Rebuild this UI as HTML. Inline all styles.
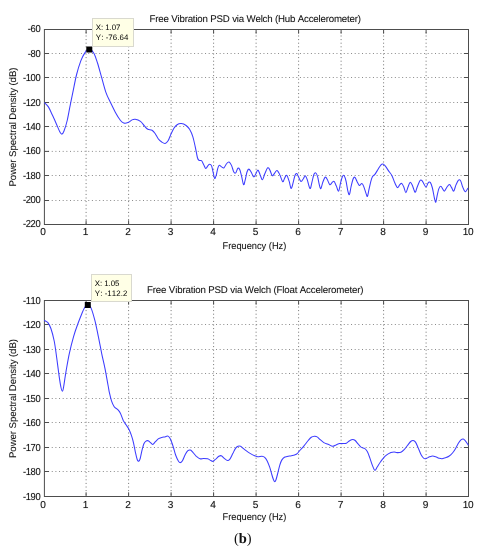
<!DOCTYPE html>
<html lang="en"><head><meta charset="utf-8"><title>Free Vibration PSD via Welch</title>
<style>
html,body{margin:0;padding:0;background:#fff;}
body{width:479px;height:550px;overflow:hidden;}
svg{display:block;font-family:"Liberation Sans",Arial,sans-serif;text-rendering:geometricPrecision;font-kerning:none;}
.grid line{stroke:#727272;stroke-width:1;stroke-dasharray:1 2.6;}
.grid line.h{stroke-dasharray:1 2.65;stroke:#8a8a8a;}
.ax line,.ax rect{stroke:#4d4d4d;stroke-width:1;}
.curve{fill:none;stroke:#3c3cff;stroke-width:1.05;stroke-linejoin:round;stroke-linecap:round;}
.tl{font-size:10.1px;fill:#111;letter-spacing:-0.35px;stroke:#000;stroke-opacity:.18;stroke-width:.6;}
.lb{font-size:9.7px;fill:#111;stroke:#000;stroke-opacity:.14;stroke-width:.5;}
.tt{font-size:7.9px;fill:#000;}
.tip{fill:#ffffe6;stroke:#d9d9cf;stroke-width:1;}
.cap{font-family:"Liberation Serif","DejaVu Serif",serif;font-size:14.5px;fill:#111;}
</style></head><body>
<svg width="479" height="550" viewBox="0 0 479 550">
<rect width="479" height="550" fill="#fff"/>
<g class="grid"><line x1="86.10" y1="31.9" x2="86.10" y2="224.5"/><line x1="128.60" y1="31.9" x2="128.60" y2="224.5"/><line x1="171.10" y1="31.9" x2="171.10" y2="224.5"/><line x1="213.60" y1="31.9" x2="213.60" y2="224.5"/><line x1="256.10" y1="31.9" x2="256.10" y2="224.5"/><line x1="298.60" y1="31.9" x2="298.60" y2="224.5"/><line x1="341.10" y1="31.9" x2="341.10" y2="224.5"/><line x1="383.60" y1="31.9" x2="383.60" y2="224.5"/><line x1="426.10" y1="31.9" x2="426.10" y2="224.5"/><line class="h" x1="44.45" y1="53.50" x2="468.5" y2="53.50"/><line class="h" x1="44.45" y1="77.50" x2="468.5" y2="77.50"/><line class="h" x1="44.45" y1="102.50" x2="468.5" y2="102.50"/><line class="h" x1="44.45" y1="126.50" x2="468.5" y2="126.50"/><line class="h" x1="44.45" y1="151.40" x2="468.5" y2="151.40"/><line class="h" x1="44.45" y1="175.50" x2="468.5" y2="175.50"/><line class="h" x1="44.45" y1="200.50" x2="468.5" y2="200.50"/></g>
<g class="ax"><line x1="86.10" y1="224.5" x2="86.10" y2="220.3"/><line x1="86.10" y1="29.5" x2="86.10" y2="33.7"/><line x1="128.60" y1="224.5" x2="128.60" y2="220.3"/><line x1="128.60" y1="29.5" x2="128.60" y2="33.7"/><line x1="171.10" y1="224.5" x2="171.10" y2="220.3"/><line x1="171.10" y1="29.5" x2="171.10" y2="33.7"/><line x1="213.60" y1="224.5" x2="213.60" y2="220.3"/><line x1="213.60" y1="29.5" x2="213.60" y2="33.7"/><line x1="256.10" y1="224.5" x2="256.10" y2="220.3"/><line x1="256.10" y1="29.5" x2="256.10" y2="33.7"/><line x1="298.60" y1="224.5" x2="298.60" y2="220.3"/><line x1="298.60" y1="29.5" x2="298.60" y2="33.7"/><line x1="341.10" y1="224.5" x2="341.10" y2="220.3"/><line x1="341.10" y1="29.5" x2="341.10" y2="33.7"/><line x1="383.60" y1="224.5" x2="383.60" y2="220.3"/><line x1="383.60" y1="29.5" x2="383.60" y2="33.7"/><line x1="426.10" y1="224.5" x2="426.10" y2="220.3"/><line x1="426.10" y1="29.5" x2="426.10" y2="33.7"/><line x1="44.4" y1="53.50" x2="49.0" y2="53.50"/><line x1="468.5" y1="53.50" x2="463.9" y2="53.50"/><line x1="44.4" y1="77.50" x2="49.0" y2="77.50"/><line x1="468.5" y1="77.50" x2="463.9" y2="77.50"/><line x1="44.4" y1="102.50" x2="49.0" y2="102.50"/><line x1="468.5" y1="102.50" x2="463.9" y2="102.50"/><line x1="44.4" y1="126.50" x2="49.0" y2="126.50"/><line x1="468.5" y1="126.50" x2="463.9" y2="126.50"/><line x1="44.4" y1="151.40" x2="49.0" y2="151.40"/><line x1="468.5" y1="151.40" x2="463.9" y2="151.40"/><line x1="44.4" y1="175.50" x2="49.0" y2="175.50"/><line x1="468.5" y1="175.50" x2="463.9" y2="175.50"/><line x1="44.4" y1="200.50" x2="49.0" y2="200.50"/><line x1="468.5" y1="200.50" x2="463.9" y2="200.50"/><rect x="44.4" y="29.5" width="424.1" height="195.0" fill="none"/></g>
<path class="curve" d="M44.6 102.8C45.2 103.5 47.1 104.8 48.4 106.9C49.7 109.0 51.1 112.3 52.5 115.3C53.9 118.3 55.5 121.9 56.7 124.7C57.9 127.5 59.0 130.4 59.9 132.0C60.8 133.6 61.3 134.3 62.0 134.1C62.7 133.9 63.1 133.3 64.0 131.0C64.9 128.7 66.2 124.8 67.2 120.5C68.2 116.2 69.2 110.1 70.3 104.9C71.3 99.7 72.5 94.3 73.5 89.2C74.5 84.1 75.4 79.2 76.6 74.5C77.8 69.8 79.5 64.4 80.8 60.9C82.1 57.4 83.0 55.6 84.4 53.6C85.8 51.6 87.4 48.6 89.0 48.6C90.6 48.6 92.6 51.2 94.0 53.6C95.4 56.0 96.2 59.0 97.5 63.0C98.8 67.0 100.3 72.8 101.7 77.7C103.1 82.6 104.5 88.3 105.9 92.3C107.3 96.3 108.5 98.4 110.1 101.7C111.7 105.0 113.6 109.1 115.3 112.2C117.0 115.3 119.1 118.7 120.5 120.5C121.9 122.3 122.5 122.7 123.7 123.0C124.9 123.3 126.5 123.1 127.9 122.6C129.3 122.1 130.8 120.5 132.0 119.9C133.2 119.3 133.8 119.0 135.2 119.2C136.6 119.4 138.9 120.1 140.5 121.3C142.1 122.5 143.4 124.9 144.6 126.2C145.8 127.5 146.6 128.6 147.8 129.3C149.0 130.0 150.8 129.6 152.0 130.3C153.2 131.0 154.1 132.1 155.1 133.5C156.1 134.9 157.1 137.3 158.2 138.7C159.2 140.1 160.2 141.0 161.4 141.8C162.6 142.6 164.0 143.7 165.1 143.5C166.2 143.3 167.1 142.3 168.1 140.8C169.1 139.3 169.8 136.6 170.8 134.5C171.8 132.4 172.9 129.8 173.9 128.2C174.9 126.6 175.9 125.5 177.1 124.7C178.3 123.9 179.8 123.5 181.3 123.6C182.8 123.7 184.7 124.5 186.1 125.5C187.5 126.5 188.5 127.5 189.6 129.3C190.7 131.2 191.9 133.6 192.8 136.6C193.8 139.6 194.5 143.6 195.3 147.1C196.1 150.6 196.8 155.3 197.4 157.5C198.0 159.7 198.3 159.8 199.0 160.3C199.7 160.8 200.7 160.0 201.5 160.7C202.3 161.4 202.9 163.1 203.6 164.4C204.3 165.7 205.0 168.2 205.7 168.4C206.4 168.7 207.2 166.6 207.8 165.9C208.4 165.2 208.9 164.2 209.5 164.2C210.1 164.2 211.0 164.4 211.6 165.9C212.2 167.4 212.8 171.1 213.3 173.2C213.8 175.3 214.2 178.2 214.7 178.5C215.2 178.8 215.7 176.8 216.2 175.3C216.7 173.8 217.0 171.2 217.5 169.5C218.0 167.8 218.4 165.8 219.1 165.4C219.8 165.0 220.8 166.5 221.6 166.9C222.4 167.3 223.2 168.4 224.0 167.8C224.8 167.2 225.8 164.5 226.7 163.5C227.5 162.5 228.3 161.7 229.1 162.0C229.9 162.3 230.7 163.7 231.5 165.4C232.3 167.1 233.1 170.8 233.8 172.0C234.5 173.2 235.0 173.5 235.7 172.9C236.4 172.3 237.2 168.7 237.9 168.2C238.6 167.7 239.2 168.3 239.8 169.7C240.4 171.1 241.1 174.2 241.7 176.7C242.3 179.2 243.0 184.1 243.6 184.7C244.2 185.3 244.5 182.5 245.1 180.4C245.7 178.3 246.4 173.9 247.0 172.0C247.6 170.1 248.1 169.1 248.8 169.1C249.5 169.1 250.3 170.7 251.1 172.0C251.9 173.3 252.8 176.2 253.5 176.7C254.2 177.2 254.7 175.9 255.4 174.8C256.1 173.7 257.1 170.1 257.9 170.1C258.7 170.1 259.4 173.2 260.1 174.8C260.9 176.4 261.6 180.0 262.4 179.8C263.2 179.6 263.9 175.8 264.8 173.8C265.7 171.8 266.8 168.4 267.6 167.8C268.5 167.2 269.1 168.8 269.9 170.1C270.7 171.4 271.5 175.2 272.3 175.7C273.1 176.2 274.0 173.8 274.8 172.9C275.6 172.0 276.2 170.2 277.0 170.5C277.8 170.8 278.9 172.9 279.8 174.8C280.8 176.7 281.9 181.2 282.7 181.7C283.5 182.2 284.2 178.7 284.9 177.6C285.6 176.5 286.1 174.7 286.8 175.3C287.5 175.9 288.5 179.2 289.2 181.4C289.9 183.6 290.5 188.2 291.1 188.5C291.7 188.8 292.4 185.3 293.0 183.2C293.6 181.1 294.3 177.3 294.9 175.7C295.5 174.1 296.1 173.2 296.8 173.5C297.5 173.8 298.1 176.3 298.8 177.6C299.5 178.9 300.2 181.2 301.0 181.4C301.8 181.6 302.8 179.4 303.5 178.5C304.2 177.6 304.7 175.5 305.3 175.7C305.9 175.9 306.4 177.4 307.2 179.5C308.0 181.6 309.2 188.0 310.0 188.5C310.8 189.0 311.3 184.6 311.9 182.3C312.5 180.0 313.2 176.4 313.8 174.8C314.4 173.2 315.1 172.6 315.7 172.9C316.3 173.2 317.0 174.7 317.6 176.7C318.2 178.7 318.8 183.1 319.4 185.1C319.9 187.1 320.3 189.0 320.9 188.5C321.5 188.0 322.1 184.2 322.8 182.3C323.5 180.4 324.4 177.7 325.1 177.2C325.9 176.7 326.5 178.2 327.3 179.5C328.1 180.8 329.0 184.2 329.8 184.7C330.6 185.2 331.5 182.9 332.2 182.3C332.9 181.8 333.4 180.8 334.1 181.4C334.8 182.0 335.6 184.5 336.4 186.1C337.1 187.7 337.9 191.6 338.6 191.1C339.3 190.6 339.9 185.6 340.5 183.2C341.1 180.8 341.8 177.9 342.4 176.7C343.0 175.4 343.6 174.9 344.2 175.7C344.8 176.5 345.5 178.7 346.1 181.4C346.7 184.1 347.4 189.5 348.0 191.7C348.6 193.9 349.0 195.3 349.5 194.5C350.0 193.7 350.4 189.5 351.0 187.0C351.6 184.5 352.3 181.1 352.9 179.5C353.5 177.9 354.1 176.9 354.8 177.2C355.5 177.5 356.2 180.0 357.0 181.4C357.8 182.8 358.5 185.1 359.3 185.5C360.1 185.9 361.0 183.5 361.7 183.6C362.4 183.7 362.9 184.4 363.6 186.1C364.3 187.8 365.5 191.9 366.1 193.6C366.7 195.3 367.0 196.9 367.4 196.4C367.8 195.9 368.2 193.2 368.7 190.8C369.2 188.5 370.0 184.7 370.6 182.3C371.2 180.0 371.7 178.0 372.4 176.7C373.1 175.4 373.9 175.7 374.9 174.4C375.8 173.2 377.1 170.8 378.1 169.2C379.1 167.6 380.0 166.0 380.8 165.1C381.6 164.2 382.1 163.8 382.9 164.0C383.7 164.2 384.4 164.9 385.4 166.1C386.3 167.2 387.5 169.3 388.6 170.9C389.7 172.5 391.1 173.9 392.1 175.9C393.1 177.9 393.9 180.9 394.8 182.8C395.7 184.8 396.7 187.2 397.5 187.6C398.3 187.9 398.9 185.6 399.6 184.9C400.3 184.2 401.0 183.1 401.7 183.4C402.4 183.8 403.1 185.5 403.8 187.0C404.5 188.5 405.2 192.6 405.9 192.6C406.6 192.6 407.3 188.7 408.0 187.0C408.7 185.3 409.4 182.8 410.1 182.4C410.8 182.1 411.4 183.3 412.2 184.9C413.0 186.5 414.3 191.8 415.1 192.2C415.9 192.5 416.4 188.9 417.2 187.0C418.0 185.1 419.1 181.8 419.9 180.7C420.7 179.6 421.3 180.1 422.0 180.7C422.7 181.3 423.4 183.2 424.1 184.3C424.8 185.4 425.4 187.2 426.1 187.0C426.8 186.8 427.5 183.6 428.2 182.8C428.9 182.0 429.6 181.5 430.3 182.4C431.0 183.3 431.7 185.3 432.4 188.0C433.1 190.7 433.9 196.1 434.5 198.5C435.1 200.9 435.4 202.5 435.8 202.2C436.2 201.8 436.5 198.6 437.0 196.4C437.5 194.2 438.1 190.8 438.7 189.1C439.3 187.4 440.1 186.3 440.8 186.3C441.5 186.3 442.2 188.3 442.8 189.1C443.4 189.9 443.8 191.4 444.5 191.1C445.2 190.8 446.2 188.1 447.0 187.0C447.8 185.9 448.7 184.4 449.5 184.5C450.3 184.6 450.9 186.5 451.6 187.6C452.3 188.7 453.0 191.5 453.7 191.1C454.4 190.7 455.2 186.7 456.0 184.9C456.8 183.1 457.7 180.8 458.5 180.1C459.3 179.4 459.9 179.5 460.6 180.7C461.3 181.8 461.9 185.2 462.7 187.0C463.5 188.8 464.3 191.6 465.2 191.8C466.1 192.0 467.4 189.0 467.9 188.4"/>
<text class="tl" text-anchor="end" transform="translate(40.4 32.4) scale(0.93 1)">-60</text>
<text class="tl" text-anchor="end" transform="translate(40.4 56.8) scale(0.93 1)">-80</text>
<text class="tl" text-anchor="end" transform="translate(40.4 81.2) scale(0.93 1)">-100</text>
<text class="tl" text-anchor="end" transform="translate(40.4 105.5) scale(0.93 1)">-120</text>
<text class="tl" text-anchor="end" transform="translate(40.4 129.9) scale(0.93 1)">-140</text>
<text class="tl" text-anchor="end" transform="translate(40.4 154.3) scale(0.93 1)">-160</text>
<text class="tl" text-anchor="end" transform="translate(40.4 178.7) scale(0.93 1)">-180</text>
<text class="tl" text-anchor="end" transform="translate(40.4 203.0) scale(0.93 1)">-200</text>
<text class="tl" text-anchor="end" transform="translate(40.4 227.4) scale(0.93 1)">-220</text>
<text class="tl" text-anchor="middle" x="42.9" y="235.3">0</text>
<text class="tl" text-anchor="middle" x="85.3" y="235.3">1</text>
<text class="tl" text-anchor="middle" x="127.8" y="235.3">2</text>
<text class="tl" text-anchor="middle" x="170.3" y="235.3">3</text>
<text class="tl" text-anchor="middle" x="212.8" y="235.3">4</text>
<text class="tl" text-anchor="middle" x="255.4" y="235.3">5</text>
<text class="tl" text-anchor="middle" x="297.9" y="235.3">6</text>
<text class="tl" text-anchor="middle" x="340.4" y="235.3">7</text>
<text class="tl" text-anchor="middle" x="382.9" y="235.3">8</text>
<text class="tl" text-anchor="middle" x="425.4" y="235.3">9</text>
<text class="tl" text-anchor="middle" x="467.9" y="235.3">10</text>
<text class="lb" x="222.5" y="248.6" textLength="63.8" lengthAdjust="spacingAndGlyphs">Frequency (Hz)</text>
<text class="lb yl" transform="translate(15.8 186.5) rotate(-90)" textLength="119" lengthAdjust="spacing">Power Spectral Density (dB)</text>
<text class="lb" x="149.5" y="21.7" textLength="211.5" lengthAdjust="spacing">Free Vibration PSD via Welch (Hub Accelerometer)</text>
<rect x="86.3" y="46.5" width="6" height="6" fill="#000"/>
<rect class="tip" x="92.5" y="18.5" width="41.0" height="28.0"/>
<text class="tt" x="95.8" y="29.7" textLength="24.6" lengthAdjust="spacing">X: 1.07</text>
<text class="tt" x="95.8" y="39.9" textLength="32.6" lengthAdjust="spacing">Y: -76.64</text>
<g class="grid"><line x1="86.10" y1="302.9" x2="86.10" y2="496.5"/><line x1="128.60" y1="302.9" x2="128.60" y2="496.5"/><line x1="171.10" y1="302.9" x2="171.10" y2="496.5"/><line x1="213.60" y1="302.9" x2="213.60" y2="496.5"/><line x1="256.10" y1="302.9" x2="256.10" y2="496.5"/><line x1="298.60" y1="302.9" x2="298.60" y2="496.5"/><line x1="341.10" y1="302.9" x2="341.10" y2="496.5"/><line x1="383.60" y1="302.9" x2="383.60" y2="496.5"/><line x1="426.10" y1="302.9" x2="426.10" y2="496.5"/><line class="h" x1="44.45" y1="324.50" x2="468.5" y2="324.50"/><line class="h" x1="44.45" y1="349.50" x2="468.5" y2="349.50"/><line class="h" x1="44.45" y1="373.50" x2="468.5" y2="373.50"/><line class="h" x1="44.45" y1="398.50" x2="468.5" y2="398.50"/><line class="h" x1="44.45" y1="422.50" x2="468.5" y2="422.50"/><line class="h" x1="44.45" y1="447.50" x2="468.5" y2="447.50"/><line class="h" x1="44.45" y1="471.50" x2="468.5" y2="471.50"/></g>
<g class="ax"><line x1="86.10" y1="496.5" x2="86.10" y2="492.3"/><line x1="86.10" y1="300.5" x2="86.10" y2="304.7"/><line x1="128.60" y1="496.5" x2="128.60" y2="492.3"/><line x1="128.60" y1="300.5" x2="128.60" y2="304.7"/><line x1="171.10" y1="496.5" x2="171.10" y2="492.3"/><line x1="171.10" y1="300.5" x2="171.10" y2="304.7"/><line x1="213.60" y1="496.5" x2="213.60" y2="492.3"/><line x1="213.60" y1="300.5" x2="213.60" y2="304.7"/><line x1="256.10" y1="496.5" x2="256.10" y2="492.3"/><line x1="256.10" y1="300.5" x2="256.10" y2="304.7"/><line x1="298.60" y1="496.5" x2="298.60" y2="492.3"/><line x1="298.60" y1="300.5" x2="298.60" y2="304.7"/><line x1="341.10" y1="496.5" x2="341.10" y2="492.3"/><line x1="341.10" y1="300.5" x2="341.10" y2="304.7"/><line x1="383.60" y1="496.5" x2="383.60" y2="492.3"/><line x1="383.60" y1="300.5" x2="383.60" y2="304.7"/><line x1="426.10" y1="496.5" x2="426.10" y2="492.3"/><line x1="426.10" y1="300.5" x2="426.10" y2="304.7"/><line x1="44.4" y1="324.50" x2="49.0" y2="324.50"/><line x1="468.5" y1="324.50" x2="463.9" y2="324.50"/><line x1="44.4" y1="349.50" x2="49.0" y2="349.50"/><line x1="468.5" y1="349.50" x2="463.9" y2="349.50"/><line x1="44.4" y1="373.50" x2="49.0" y2="373.50"/><line x1="468.5" y1="373.50" x2="463.9" y2="373.50"/><line x1="44.4" y1="398.50" x2="49.0" y2="398.50"/><line x1="468.5" y1="398.50" x2="463.9" y2="398.50"/><line x1="44.4" y1="422.50" x2="49.0" y2="422.50"/><line x1="468.5" y1="422.50" x2="463.9" y2="422.50"/><line x1="44.4" y1="447.50" x2="49.0" y2="447.50"/><line x1="468.5" y1="447.50" x2="463.9" y2="447.50"/><line x1="44.4" y1="471.50" x2="49.0" y2="471.50"/><line x1="468.5" y1="471.50" x2="463.9" y2="471.50"/><rect x="44.4" y="300.5" width="424.1" height="196.0" fill="none"/></g>
<path class="curve" d="M44.6 320.5C45.1 320.9 46.9 321.3 47.9 322.6C48.9 323.9 49.8 325.4 50.9 328.5C52.0 331.6 53.2 336.1 54.2 341.0C55.2 345.9 55.9 351.9 56.7 357.8C57.5 363.7 58.5 371.7 59.2 376.6C59.9 381.5 60.4 384.6 60.9 387.0C61.4 389.4 61.9 391.2 62.4 391.2C62.9 391.2 63.0 390.5 63.6 387.0C64.2 383.5 65.2 375.9 66.2 370.3C67.2 364.7 68.1 359.2 69.3 353.6C70.5 348.0 72.1 341.7 73.5 336.8C74.9 331.9 76.3 328.1 77.7 324.3C79.1 320.5 80.7 316.5 81.8 313.8C82.9 311.1 83.4 309.5 84.4 308.0C85.4 306.5 86.8 304.5 87.9 304.6C89.1 304.7 90.2 306.0 91.3 308.6C92.4 311.2 93.6 315.6 94.8 320.1C96.0 324.6 97.0 330.2 98.2 335.8C99.4 341.4 100.6 348.2 101.7 353.6C102.8 359.0 103.9 363.0 104.9 368.2C106.0 373.4 107.2 380.9 108.0 385.0C108.8 389.1 108.8 390.0 109.4 392.6C110.0 395.2 110.7 398.5 111.5 400.9C112.3 403.3 113.2 405.3 114.2 406.8C115.2 408.3 116.8 408.6 117.8 409.7C118.8 410.8 119.6 411.6 120.5 413.5C121.4 415.4 122.5 418.9 123.4 420.8C124.4 422.7 125.3 423.6 126.2 425.0C127.1 426.4 128.0 427.5 128.9 429.2C129.8 430.9 130.6 433.1 131.4 435.4C132.2 437.7 132.8 439.8 133.5 442.8C134.2 445.8 135.0 450.4 135.6 453.2C136.2 456.0 136.7 458.2 137.2 459.5C137.7 460.8 138.2 461.4 138.7 461.2C139.2 461.0 139.7 460.2 140.2 458.5C140.7 456.8 141.2 453.6 141.8 451.1C142.4 448.7 143.2 445.5 143.9 443.8C144.6 442.1 145.3 441.6 146.0 441.1C146.7 440.6 147.4 440.5 148.1 440.7C148.8 440.9 149.4 441.7 150.2 442.3C151.0 442.9 151.8 444.5 152.7 444.4C153.6 444.3 154.4 442.7 155.4 441.7C156.4 440.7 157.6 439.3 158.6 438.6C159.6 437.9 160.6 437.8 161.7 437.5C162.8 437.2 163.9 437.1 164.9 436.9C165.9 436.7 166.6 436.0 167.4 436.1C168.2 436.2 168.8 436.6 169.5 437.5C170.2 438.4 170.8 439.9 171.5 441.7C172.2 443.4 172.9 445.7 173.6 448.0C174.3 450.3 174.9 453.1 175.7 455.3C176.5 457.5 177.7 460.0 178.5 461.2C179.3 462.4 179.8 462.7 180.5 462.6C181.2 462.5 181.8 461.9 182.6 460.5C183.4 459.1 184.5 455.9 185.4 454.3C186.3 452.7 187.1 451.4 187.9 450.7C188.7 450.0 189.5 449.8 190.4 450.1C191.3 450.4 192.1 451.6 193.1 452.6C194.1 453.6 195.2 455.3 196.3 456.3C197.5 457.3 198.8 458.5 200.0 458.8C201.2 459.1 202.3 458.4 203.6 458.4C204.9 458.4 206.5 458.4 207.7 458.8C208.9 459.2 210.0 460.1 210.9 460.5C211.8 460.9 212.1 461.6 213.0 461.3C213.9 461.0 215.1 459.6 216.1 458.8C217.1 458.0 217.9 456.8 218.8 456.3C219.7 455.8 220.4 455.4 221.3 455.7C222.2 456.0 223.4 457.6 224.4 458.4C225.4 459.2 226.7 460.4 227.6 460.5C228.5 460.6 229.2 459.9 230.1 458.8C231.0 457.7 231.9 455.3 232.8 453.6C233.7 451.9 234.6 449.6 235.5 448.4C236.4 447.2 237.2 446.6 238.0 446.3C238.8 446.0 239.6 446.0 240.5 446.3C241.4 446.6 242.2 447.6 243.2 448.4C244.2 449.2 245.2 450.0 246.4 450.9C247.6 451.8 249.1 452.8 250.5 453.6C251.9 454.4 253.5 455.2 254.7 455.7C255.9 456.2 256.6 456.7 257.8 456.8C259.0 456.9 260.9 456.2 262.0 456.3C263.1 456.4 263.8 456.6 264.7 457.4C265.6 458.2 266.4 459.3 267.2 460.9C268.0 462.5 268.9 464.9 269.7 467.2C270.5 469.5 271.2 472.4 271.8 474.5C272.4 476.6 273.0 478.5 273.5 479.7C274.0 480.9 274.4 481.8 274.8 481.8C275.2 481.8 275.5 481.1 276.0 479.7C276.5 478.3 277.1 475.9 277.7 473.5C278.3 471.1 279.1 467.4 279.8 465.1C280.5 462.8 281.1 461.2 281.9 459.9C282.7 458.6 283.5 457.8 284.4 457.2C285.3 456.6 286.3 456.8 287.1 456.6C287.9 456.4 288.3 456.3 289.4 456.1C290.5 455.9 292.4 455.7 293.6 455.3C294.8 454.9 295.7 454.8 296.7 454.0C297.7 453.2 298.6 451.9 299.8 450.5C301.0 449.1 302.6 447.6 304.0 445.9C305.4 444.2 307.0 441.9 308.2 440.5C309.4 439.1 310.3 438.0 311.3 437.3C312.3 436.6 313.4 436.4 314.4 436.3C315.4 436.2 316.2 436.3 317.2 436.9C318.1 437.4 319.0 438.7 320.1 439.6C321.2 440.6 322.5 441.8 323.8 442.6C325.1 443.4 326.5 443.6 328.0 444.2C329.5 444.8 331.3 446.2 332.6 446.3C333.9 446.4 334.8 445.3 335.9 444.9C337.0 444.4 338.4 443.8 339.5 443.6C340.6 443.4 341.5 443.7 342.6 443.6C343.8 443.5 345.2 443.7 346.4 443.2C347.6 442.7 348.8 441.1 349.9 440.5C350.9 439.9 351.8 439.4 352.7 439.4C353.6 439.4 354.3 439.7 355.2 440.5C356.1 441.3 357.3 443.1 358.3 444.2C359.3 445.3 360.3 446.7 361.4 447.4C362.4 448.1 363.6 447.7 364.6 448.4C365.6 449.1 366.4 449.9 367.3 451.5C368.2 453.1 369.0 455.5 369.8 457.8C370.6 460.1 371.5 463.0 372.3 465.1C373.1 467.2 374.0 470.0 374.8 470.3C375.6 470.6 376.3 468.4 377.2 467.0C378.1 465.6 379.3 463.5 380.4 462.0C381.5 460.5 382.5 459.0 383.6 457.8C384.7 456.6 385.9 455.6 387.1 454.7C388.3 453.8 389.8 453.1 390.9 452.6C392.0 452.2 393.0 452.0 394.0 452.0C395.0 452.0 396.0 452.6 397.1 452.6C398.2 452.6 399.7 452.7 400.9 452.2C402.1 451.7 403.3 450.5 404.4 449.4C405.5 448.2 406.6 446.6 407.6 445.3C408.7 444.0 409.8 442.3 410.7 441.5C411.6 440.7 412.4 440.4 413.2 440.5C414.0 440.6 414.7 441.0 415.5 442.1C416.3 443.2 417.1 445.3 418.0 447.4C418.9 449.5 420.1 452.9 421.1 454.7C422.1 456.5 423.0 457.8 423.9 458.4C424.8 459.0 425.5 458.7 426.4 458.4C427.3 458.1 428.5 457.2 429.5 456.8C430.5 456.4 431.6 455.9 432.6 455.9C433.7 455.9 434.8 456.4 435.8 456.8C436.9 457.2 437.9 457.9 438.9 458.2C439.9 458.5 440.9 458.9 442.0 458.8C443.1 458.7 444.1 458.2 445.2 457.8C446.3 457.4 447.7 457.1 448.9 456.3C450.1 455.5 451.4 454.3 452.5 453.0C453.6 451.7 454.6 450.1 455.6 448.4C456.6 446.7 457.8 444.3 458.7 442.8C459.6 441.3 460.4 440.2 461.2 439.6C462.0 439.0 462.6 438.8 463.3 439.0C464.0 439.2 464.8 440.1 465.6 441.1C466.4 442.1 467.7 444.3 468.1 444.9"/>
<text class="tl" text-anchor="end" transform="translate(40.4 303.6) scale(0.93 1)">-110</text>
<text class="tl" text-anchor="end" transform="translate(40.4 328.1) scale(0.93 1)">-120</text>
<text class="tl" text-anchor="end" transform="translate(40.4 352.6) scale(0.93 1)">-130</text>
<text class="tl" text-anchor="end" transform="translate(40.4 377.1) scale(0.93 1)">-140</text>
<text class="tl" text-anchor="end" transform="translate(40.4 401.6) scale(0.93 1)">-150</text>
<text class="tl" text-anchor="end" transform="translate(40.4 426.1) scale(0.93 1)">-160</text>
<text class="tl" text-anchor="end" transform="translate(40.4 450.6) scale(0.93 1)">-170</text>
<text class="tl" text-anchor="end" transform="translate(40.4 475.1) scale(0.93 1)">-180</text>
<text class="tl" text-anchor="end" transform="translate(40.4 499.6) scale(0.93 1)">-190</text>
<text class="tl" text-anchor="middle" x="42.9" y="507.7">0</text>
<text class="tl" text-anchor="middle" x="85.3" y="507.7">1</text>
<text class="tl" text-anchor="middle" x="127.8" y="507.7">2</text>
<text class="tl" text-anchor="middle" x="170.3" y="507.7">3</text>
<text class="tl" text-anchor="middle" x="212.8" y="507.7">4</text>
<text class="tl" text-anchor="middle" x="255.4" y="507.7">5</text>
<text class="tl" text-anchor="middle" x="297.9" y="507.7">6</text>
<text class="tl" text-anchor="middle" x="340.4" y="507.7">7</text>
<text class="tl" text-anchor="middle" x="382.9" y="507.7">8</text>
<text class="tl" text-anchor="middle" x="425.4" y="507.7">9</text>
<text class="tl" text-anchor="middle" x="467.9" y="507.7">10</text>
<text class="lb" x="222.5" y="519.5" textLength="63.8" lengthAdjust="spacingAndGlyphs">Frequency (Hz)</text>
<text class="lb yl" transform="translate(15.8 458.0) rotate(-90)" textLength="119" lengthAdjust="spacing">Power Spectral Density (dB)</text>
<text class="lb" x="147.0" y="292.7" textLength="216.5" lengthAdjust="spacing">Free Vibration PSD via Welch (Float Accelerometer)</text>
<rect x="84.8" y="302.0" width="6" height="6" fill="#000"/>
<rect class="tip" x="91.5" y="274.5" width="40.0" height="27.0"/>
<text class="tt" x="94.8" y="285.7" textLength="24.6" lengthAdjust="spacing">X: 1.05</text>
<text class="tt" x="94.8" y="295.9" textLength="32.6" lengthAdjust="spacing">Y: -112.2</text>
<text class="cap" x="233.9" y="542.9">(<tspan font-weight="bold">b</tspan>)</text>
</svg>
</body></html>
